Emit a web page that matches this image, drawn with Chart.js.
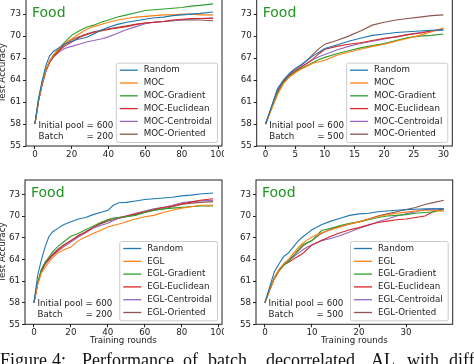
<!DOCTYPE html>
<html>
<head>
<meta charset="utf-8">
<script src="https://cdn.jsdelivr.net/npm/chart.js@4.4.0/dist/chart.umd.min.js"></script>
<style>
  body { margin:0; background:#fff; width:474px; height:364px; overflow:hidden; position:relative; }
  .box { position:absolute; overflow:hidden; }
  .box canvas { position:absolute; }
  .cap { position:absolute; top:351px; font:18px/18px "Liberation Serif", serif; color:#111; white-space:nowrap; }
</style>
</head>
<body>
<div class="box" style="left:0;top:0;width:224px;height:176px"><canvas id="c1" width="248" height="176" style="left:-8px;top:-10px"></canvas></div>
<div class="box" style="left:226px;top:0;width:248px;height:176px"><canvas id="c2" width="248" height="176" style="left:0;top:-10px"></canvas></div>
<div class="box" style="left:0;top:172px;width:224px;height:180px"><canvas id="c3" width="248" height="180" style="left:-8px;top:0"></canvas></div>
<div class="box" style="left:226px;top:172px;width:248px;height:180px"><canvas id="c4" width="248" height="180" style="left:0;top:0"></canvas></div>

<span class="cap" style="left:0">Figure</span>
<span class="cap" style="left:52px">4:</span>
<span class="cap" style="left:82px">Performance</span>
<span class="cap" style="left:183px">of</span>
<span class="cap" style="left:208px">batch</span>
<span class="cap" style="left:266px">decorrelated</span>
<span class="cap" style="left:371px">AL</span>
<span class="cap" style="left:407px">with</span>
<span class="cap" style="left:449px">different</span>

<script>
// legend names
const labelsMOC = ['Random', 'MOC', 'MOC-Gradient', 'MOC-Euclidean', 'MOC-Centroidal', 'MOC-Oriented'];
const labelsEGL = ['Random', 'EGL', 'EGL-Gradient', 'EGL-Euclidean', 'EGL-Centroidal', 'EGL-Oriented'];

const yTicks = [55, 58, 61, 64, 67, 70, 73];
const xTicks100 = [0, 20, 40, 60, 80, 100];
const xTicks30 = [0, 5, 10, 15, 20, 25, 30];
const xTicks38 = [0, 10, 20, 30];

// top left: MOC, batch 200
const roundsTL = [0, 2, 4, 6, 8, 10, 13, 16, 20, 24, 28, 32, 36, 40, 45, 50, 55, 60, 65, 70, 75, 80, 85, 90, 97];
const tlRandom     = [58, 61.5, 64.0, 66.0, 67.3, 67.9, 68.4, 68.9, 69.3, 69.6, 69.8, 70.3, 70.8, 71.2, 71.6, 71.9, 72.1, 72.3, 72.5, 72.6, 72.8, 72.9, 73.0, 73.1, 73.3];
const tlMOC        = [58, 61.3, 63.6, 65.4, 66.6, 67.4, 68.3, 69.0, 69.6, 70.3, 70.9, 71.3, 71.6, 71.9, 72.2, 72.4, 72.6, 72.7, 72.8, 72.9, 72.9, 73.0, 73.0, 72.9, 72.9];
const tlGradient   = [58, 61.3, 63.7, 65.5, 66.6, 67.4, 68.3, 69.1, 70.1, 70.7, 71.2, 71.5, 71.9, 72.2, 72.6, 72.9, 73.2, 73.5, 73.6, 73.7, 73.8, 73.9, 74.1, 74.2, 74.4];
const tlEuclidean  = [58, 61.2, 63.5, 65.3, 66.4, 67.2, 68.0, 68.6, 69.2, 69.8, 70.2, 70.5, 70.7, 70.9, 71.1, 71.3, 71.6, 71.8, 71.9, 72.0, 72.2, 72.3, 72.4, 72.4, 72.4];
const tlCentroidal = [58, 61.2, 63.4, 65.2, 66.4, 67.1, 67.8, 68.3, 68.6, 68.9, 69.2, 69.4, 69.6, 69.9, 70.4, 70.9, 71.3, 71.7, 71.9, 72.0, 72.1, 72.2, 72.3, 72.4, 72.5];
const tlOriented   = [58, 61.2, 63.5, 65.3, 66.5, 67.3, 68.1, 68.8, 69.5, 69.9, 70.3, 70.6, 70.8, 71.0, 71.2, 71.4, 71.6, 71.8, 71.9, 72.0, 72.1, 72.2, 72.2, 72.2, 72.1];

// top right: MOC, batch 500
const roundsTR = [0, 1, 2, 3, 4, 5, 6, 7, 8, 9, 10, 12, 14, 16, 18, 20, 22, 24, 26, 28, 30];
const trRandom     = [58, 60.4, 62.8, 64.0, 64.9, 65.6, 66.1, 66.7, 67.3, 67.8, 68.3, 68.8, 69.3, 69.7, 70.1, 70.3, 70.5, 70.6, 70.7, 70.8, 70.85];
const trMOC        = [58, 60.0, 62.0, 63.5, 64.4, 65.0, 65.5, 65.9, 66.3, 66.5, 66.7, 67.4, 67.8, 68.2, 68.6, 68.9, 69.3, 69.7, 70.1, 70.6, 71.1];
const trGradient   = [58, 60.1, 62.2, 63.6, 64.5, 65.1, 65.6, 66.0, 66.4, 66.8, 67.1, 67.6, 68.0, 68.4, 68.7, 69.0, 69.4, 69.8, 70.0, 70.1, 70.3];
const trEuclidean  = [58, 60.2, 62.3, 63.7, 64.6, 65.2, 65.8, 66.3, 66.9, 67.6, 68.2, 68.6, 68.9, 69.1, 69.4, 69.7, 69.9, 70.2, 70.4, 70.7, 71.0];
const trCentroidal = [58, 60.2, 62.4, 63.8, 64.6, 65.3, 65.8, 66.3, 66.8, 67.2, 67.5, 68.1, 68.6, 69.0, 69.3, 69.6, 69.9, 70.2, 70.5, 70.7, 70.8];
const trOriented   = [58, 60.3, 62.6, 63.9, 64.8, 65.5, 66.0, 66.7, 67.5, 68.3, 68.9, 69.4, 70.0, 70.7, 71.5, 71.9, 72.2, 72.4, 72.6, 72.8, 72.9];

// bottom left: EGL, batch 200
const roundsBL = [0, 2, 4, 6, 8, 10, 13, 16, 20, 24, 28, 32, 36, 40, 43, 46, 50, 55, 60, 65, 70, 75, 80, 85, 90, 97];
const blRandom     = [58, 61.8, 63.9, 65.7, 67.1, 67.8, 68.3, 68.8, 69.2, 69.6, 69.8, 70.2, 70.5, 70.8, 71.5, 71.85, 71.9, 72.1, 72.3, 72.4, 72.5, 72.6, 72.8, 72.9, 73.05, 73.2];
const blEGL        = [58, 60.5, 62.1, 62.9, 63.6, 64.2, 64.9, 65.3, 65.7, 66.6, 67.1, 67.6, 68.0, 68.5, 68.7, 68.9, 69.2, 69.6, 69.9, 70.1, 70.5, 70.8, 71.1, 71.3, 71.5, 71.5];
const blGradient   = [58, 60.8, 62.6, 63.6, 64.3, 65.0, 65.8, 66.4, 67.2, 67.6, 68.1, 68.6, 69.1, 69.5, 69.7, 69.8, 69.9, 70.1, 70.5, 70.8, 71.0, 71.1, 71.2, 71.3, 71.4, 71.4];
const blEuclidean  = [58, 60.6, 62.4, 63.4, 64.0, 64.6, 65.3, 65.9, 66.6, 67.3, 67.8, 68.4, 69.0, 69.5, 69.7, 69.8, 70.0, 70.3, 70.6, 70.9, 71.2, 71.4, 71.7, 71.9, 72.2, 72.4];
const blCentroidal = [58, 60.6, 62.3, 63.3, 63.9, 64.5, 65.1, 65.7, 66.4, 67.1, 67.7, 68.3, 68.7, 69.0, 69.4, 69.7, 70.0, 70.4, 70.7, 71.0, 71.2, 71.5, 71.85, 72.0, 72.1, 72.2];
const blOriented   = [58, 60.7, 62.5, 63.5, 64.1, 64.7, 65.4, 66.0, 66.6, 67.2, 67.8, 68.4, 68.9, 69.3, 69.5, 69.7, 69.9, 70.2, 70.5, 70.8, 71.0, 71.3, 71.6, 71.8, 71.9, 72.0];

// bottom right: EGL, batch 500
const roundsBR = [0, 1, 2, 3, 4, 5, 6, 7, 8, 9, 10, 12, 14, 16, 18, 20, 22, 24, 26, 28, 30, 32, 34, 36, 38];
const brRandom     = [58, 60.2, 62.3, 63.4, 64.4, 64.9, 65.7, 66.5, 67.1, 67.6, 68.1, 68.8, 69.3, 69.7, 70.1, 70.3, 70.4, 70.6, 70.7, 70.8, 70.9, 70.95, 71.0, 71.0, 71.0];
const brEGL        = [58, 59.8, 61.4, 62.6, 63.4, 64.0, 64.8, 65.6, 66.2, 66.7, 67.1, 67.7, 68.1, 68.5, 68.9, 69.2, 69.6, 69.9, 70.2, 70.4, 70.55, 70.7, 70.8, 70.8, 70.65];
const brGradient   = [58, 59.8, 61.4, 62.5, 63.2, 63.7, 64.4, 65.3, 66.0, 66.3, 66.6, 68.0, 68.3, 68.7, 69.0, 69.2, 69.5, 69.8, 70.0, 70.1, 70.2, 70.4, 70.5, 70.6, 70.9];
const brEuclidean  = [58, 59.7, 61.3, 62.4, 63.2, 63.6, 64.0, 64.4, 64.8, 65.4, 66.0, 66.6, 67.2, 67.7, 68.1, 68.4, 68.8, 69.1, 69.3, 69.5, 69.6, 69.8, 70.0, 70.7, 71.0];
const brCentroidal = [58, 59.8, 61.4, 62.5, 63.3, 63.8, 64.3, 64.8, 65.3, 65.7, 66.0, 66.6, 66.9, 67.3, 67.8, 68.3, 68.7, 69.2, 69.6, 70.0, 70.3, 70.6, 70.9, 71.0, 71.0];
const brOriented   = [58, 59.9, 61.5, 62.6, 63.3, 63.9, 64.5, 65.1, 65.8, 66.3, 66.6, 67.6, 68.2, 68.6, 68.9, 69.2, 69.6, 70.0, 70.3, 70.6, 70.9, 71.2, 71.6, 71.9, 72.2];

const colors = ['#1f77b4', '#ff7f0e', '#2ca02c', '#d62728', '#9467bd', '#8c564b'];
const FONT = 'DejaVu Sans';
const FS = 8.7;
const INK = '#222';

// frame, "Food", pool/batch note and the legend box
const deco = {
  id: 'deco',
  afterDatasetsDraw(chart, args, opts) {
    const ctx = chart.ctx, a = chart.chartArea;
    ctx.save();
    ctx.strokeStyle = INK;
    ctx.lineWidth = 1;
    ctx.strokeRect(a.left, a.top, a.right - a.left, a.bottom - a.top);

    ctx.fillStyle = '#1f961f';
    ctx.font = '14px "' + FONT + '"';
    ctx.textBaseline = 'alphabetic';
    ctx.fillText('Food', a.left + 6, a.top + 17);

    ctx.fillStyle = INK;
    ctx.font = FS + 'px "' + FONT + '"';
    ctx.textBaseline = 'middle';
    const nx = a.left + 12.5;
    ctx.fillText('Initial pool = 600', nx, a.bottom - 20.5);
    ctx.fillText('Batch', nx, a.bottom - 9.5);
    const eq = nx + ctx.measureText('Initial pool ').width;
    ctx.fillText('= ' + opts.batch, eq, a.bottom - 9.5);

    // legend
    const sets = chart.data.datasets;
    let tw = 0;
    sets.forEach(d => { tw = Math.max(tw, ctx.measureText(d.label).width); });
    const w = 28 + tw + 5, rowH = 12.8, h = sets.length * rowH + 2.5;
    const lx = a.right - 5 - w, ly = a.bottom - 4 - h;
    ctx.beginPath();
    ctx.roundRect(lx + 0.5, ly + 0.5, w, h, 2);
    ctx.fillStyle = 'rgba(255,255,255,0.8)';
    ctx.fill();
    ctx.strokeStyle = '#cccccc';
    ctx.stroke();
    sets.forEach((d, i) => {
      const cy = ly + 7.5 + i * rowH;
      ctx.strokeStyle = d.borderColor;
      ctx.lineWidth = 1.3;
      ctx.beginPath();
      ctx.moveTo(lx + 4, cy);
      ctx.lineTo(lx + 22, cy);
      ctx.stroke();
      ctx.fillStyle = INK;
      ctx.fillText(d.label, lx + 28, cy);
    });
    ctx.restore();
  }
};

function build(id, c) {
  const datasets = c.series.map((vals, i) => ({
    label: c.labels[i],
    data: c.rounds.map((r, j) => ({x: r, y: vals[j]})),
    borderColor: colors[i],
    borderWidth: 1.1,
    pointRadius: 0,
    fill: false,
    tension: 0
  }));
  const tickFont = {family: FONT, size: FS};
  new Chart(document.getElementById(id), {
    type: 'line',
    data: {datasets: datasets},
    options: {
      responsive: false,
      animation: false,
      layout: {padding: c.pad},
      plugins: {legend: {display: false}, tooltip: {enabled: false}, deco: {batch: c.batch}},
      scales: {
        x: {
          type: 'linear', min: c.xlim[0], max: c.xlim[1],
          afterBuildTicks: s => { s.ticks = c.xticks.map(v => ({value: v})); },
          afterFit: s => { s.height = c.xh; },
          grid: {display: true, drawOnChartArea: false, drawTicks: true, tickLength: 3, color: INK},
          border: {display: false},
          ticks: {padding: 0.5, color: INK, font: tickFont, maxRotation: 0, autoSkip: false},
          title: {display: c.xTitle, text: 'Training rounds', color: INK, font: tickFont, padding: {top: 0, bottom: 5.9}}
        },
        y: {
          min: 55, max: 75,
          afterBuildTicks: s => { s.ticks = yTicks.map(v => ({value: v})); },
          afterFit: s => { s.width = c.yw; },
          grid: {display: true, drawOnChartArea: false, drawTicks: true, tickLength: 3, color: INK},
          border: {display: false},
          ticks: {padding: 2, color: INK, font: tickFont, autoSkip: false},
          title: {display: c.yTitle, text: 'Test Accuracy', color: INK, font: tickFont, padding: {top: 6, bottom: 0}}
        }
      }
    },
    plugins: [deco]
  });
}

build('c1', {
  rounds: roundsTL, labels: labelsMOC, batch: '200',
  series: [tlRandom, tlMOC, tlGradient, tlEuclidean, tlCentroidal, tlOriented],
  xlim: [-4.85, 101.85], xticks: xTicks100,
  pad: {left: 0, right: 18, top: 9.5, bottom: 0}, yw: 34, xh: 20, yTitle: true, xTitle: false
});
build('c2', {
  rounds: roundsTR, labels: labelsMOC, batch: '500',
  series: [trRandom, trMOC, trGradient, trEuclidean, trCentroidal, trOriented],
  xlim: [-1.5, 31.5], xticks: xTicks30,
  pad: {left: 0, right: 21.7, top: 9.5, bottom: 0}, yw: 30.7, xh: 20, yTitle: false, xTitle: false
});
build('c3', {
  rounds: roundsBL, labels: labelsEGL, batch: '200',
  series: [blRandom, blEGL, blGradient, blEuclidean, blCentroidal, blOriented],
  xlim: [-4.85, 101.85], xticks: xTicks100,
  pad: {left: 0, right: 18, top: 8, bottom: 0}, yw: 33, xh: 27.7, yTitle: true, xTitle: true
});
build('c4', {
  rounds: roundsBR, labels: labelsEGL, batch: '500',
  series: [brRandom, brEGL, brGradient, brEuclidean, brCentroidal, brOriented],
  xlim: [-1.9, 39.9], xticks: xTicks38,
  pad: {left: 0, right: 21.3, top: 8, bottom: 0}, yw: 30, xh: 27.7, yTitle: false, xTitle: true
});
</script>
</body>
</html>
